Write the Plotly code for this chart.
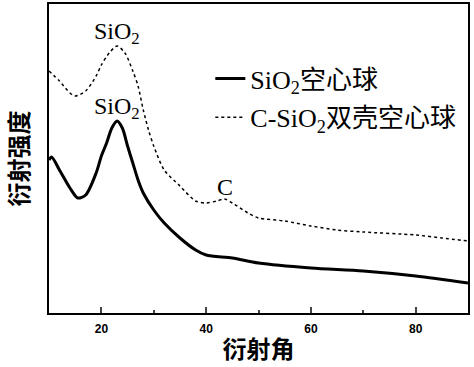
import plotly.graph_objects as go

# Diffraction angle (2θ) and intensities (arbitrary units)
x_sio2 = [10, 10.5, 12, 14, 15.5, 17, 19, 20, 21, 22, 23, 24, 25, 26, 27, 28, 30, 32, 35, 38, 40, 45, 50, 60, 70, 80, 90]
y_sio2 = [153, 156, 143, 125, 115, 118, 140, 157, 170, 185, 192, 185, 167, 150, 133, 120, 103, 90, 75, 63, 58, 55, 50, 45, 42, 37, 30]

x_csio2 = [10, 12, 14, 15, 17, 19, 20, 21.5, 23, 24.5, 26, 27, 28, 29, 30, 32, 35, 38, 40, 42, 43.5, 45, 48, 50, 55, 60, 65, 70, 80, 85, 90]
y_csio2 = [242, 232, 220, 217, 222, 237, 248, 260, 267, 260, 242, 227, 203, 183, 167, 143, 127, 112, 110, 112, 114, 110, 100, 95, 92, 87, 83, 81, 78, 75, 72]

names = ["SiO<sub>2</sub>空心球", "C-SiO<sub>2</sub>双壳空心球"]
x_ticks = [20, 40, 60, 80]
x_minor = [30, 50, 70]

# Peak labels: (x, y, text)
peak_x = [22.9, 22.9, 43.6]
peak_y = [280, 205, 126]
peak_text = ["SiO<sub>2</sub>", "SiO<sub>2</sub>", "C"]

serif = "Liberation Serif, Times New Roman, Noto Sans CJK SC, serif"

fig = go.Figure()
fig.add_trace(go.Scatter(x=x_sio2, y=y_sio2, mode="lines", name=names[0], legendgroup="a",
                         line=dict(color="black", width=3, shape="spline", smoothing=0.8)))
fig.add_trace(go.Scatter(x=x_csio2, y=y_csio2, mode="lines", name=names[1], legendgroup="b",
                         line=dict(color="black", width=1.5, dash="dot", shape="spline", smoothing=0.8)))

for px, py, t in zip(peak_x, peak_y, peak_text):
    fig.add_annotation(x=px, y=py, text=t, showarrow=False,
                       font=dict(family=serif, size=24, color="black"))

fig.update_layout(
    width=474, height=367,
    margin=dict(l=49, r=6, t=4, b=54),
    paper_bgcolor="white", plot_bgcolor="white",
    showlegend=True,
    legend=dict(x=0.385, y=0.835, xanchor="left", yanchor="top",
                bgcolor="rgba(0,0,0,0)", font=dict(family=serif, size=26, color="black"),
                tracegroupgap=2, itemwidth=30),
    xaxis=dict(range=[10, 90], tickvals=x_ticks, ticks="inside", ticklen=6, tickwidth=1.5,
               minor=dict(tickvals=x_minor, ticks="inside", ticklen=3, tickwidth=1.5),
               showline=True, linecolor="black", linewidth=1.5, mirror=True,
               showgrid=False, zeroline=False, automargin=False, ticklabelstandoff=4,
               tickfont=dict(family="Liberation Sans, Arial", size=12, color="black", weight="bold"),
               title=dict(text="<b>衍射角</b>", font=dict(family="Noto Sans CJK SC", size=24, color="black"), standoff=6)),
    yaxis=dict(range=[0, 309], showticklabels=False, ticks="",
               showline=True, linecolor="black", linewidth=1.5, mirror=True,
               showgrid=False, zeroline=False, automargin=False,
               title=dict(text="<b>衍射强度</b>", font=dict(family="Noto Sans CJK SC", size=24, color="black"), standoff=21)),
)

fig.write_html("out.html", config={"displayModeBar": False},
               post_script="document.body.style.margin='0px';")
